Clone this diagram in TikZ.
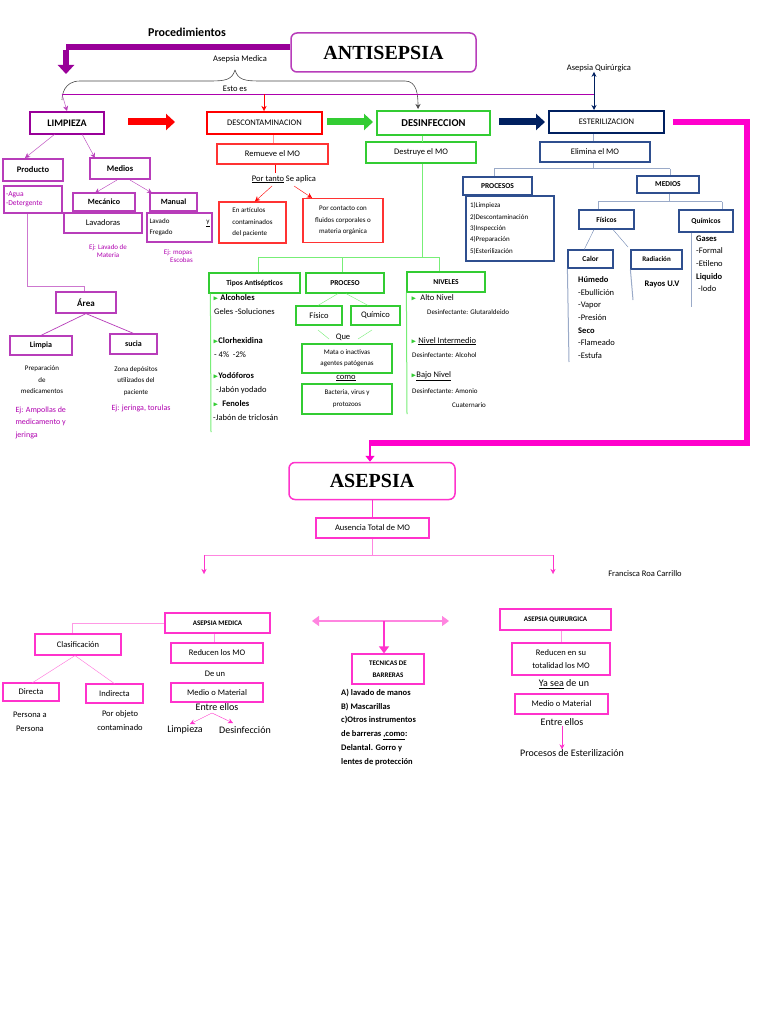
\documentclass[tikz,border=0pt]{standalone}
\usepackage{fontspec}
\usepackage{amssymb}
\setmainfont{Carlito}
\newfontfamily\titlefont{Liberation Serif}
\usetikzlibrary{arrows.meta}
\definecolor{pur}{HTML}{990099}
\definecolor{lpur}{HTML}{B83DBA}
\definecolor{mag}{HTML}{FF33CC}
\definecolor{bmag}{HTML}{FF00CC}
\definecolor{grn}{HTML}{33CC33}
\definecolor{lgrn}{HTML}{77EE77}
\definecolor{nav}{HTML}{002060}
\definecolor{sblue}{HTML}{2F4F8F}
\definecolor{gblue}{HTML}{9AAAC8}
\definecolor{tmag}{HTML}{B000B0}
\newcommand\bx[7]{\node[bx,#6,minimum width={(#4)-(#2)},minimum height={(#5)-(#3)}] (#1) at ({((#2)+(#4))/2},{((#3)+(#5))/2}) {#7};}
\newcommand\bul{\textcolor{grn}{\scalebox{0.8}{$\blacktriangleright$}}}
\begin{document}
\begin{tikzpicture}[x=1pt,y=-1pt,
  bx/.style={draw,rectangle,inner sep=1pt,align=center,line width=1.2pt,font=\fontsize{8.5}{10}\selectfont},
  sm/.style={font=\fontsize{7}{10}\selectfont,align=center},
  tx/.style={font=\fontsize{8.5}{10}\selectfont,align=center,inner sep=0},
  lt/.style={font=\fontsize{8.5}{10}\selectfont,anchor=west,inner sep=0},
  ls/.style={font=\fontsize{7}{9}\selectfont,anchor=west,inner sep=0},
  ar/.style={-{Stealth[length=5pt,width=5pt]}},
  blk/.style={line width=7pt,-{Triangle[length=9pt,width=16pt]}}]
\useasboundingbox (0,0) rectangle (768,1024);
\fill[white] (0,0) rectangle (768,1024);
% ---------- ANTISEPSIA ----------
\node[draw=lpur,line width=1.5pt,rounded corners=6pt,minimum width=185pt,minimum height=39pt,font=\titlefont\bfseries\fontsize{20}{22}\selectfont] (anti) at (383.5,52.5) {ANTISEPSIA};
\node[font=\bfseries\fontsize{12}{14}\selectfont] (proc) at (187,32) {Procedimientos};
\coordinate (pc) at (66,47);
\draw[pur,line width=6pt] (anti.west|-pc) -- (pc);
\draw[pur,line width=6pt,-{Triangle[length=9pt,width=16pt]}] ([yshift=-3pt]pc) -- (66,74);
\node[tx] (am) at (240,59) {Asepsia Medica};
\node[tx] (ee) at (235,89) {Esto es};
\node[tx] (aq) at (599,68) {Asepsia Quirúrgica};
% boxes row
\bx{limp}{30}{112}{104}{134}{draw=pur,line width=2pt,font=\bfseries\fontsize{10}{12}\selectfont}{LIMPIEZA}
\bx{desc}{207}{112}{322}{134}{draw=red,line width=2pt}{DESCONTAMINACION}
\bx{desi}{377}{111}{490}{135}{draw=grn,line width=2pt,font=\bfseries\fontsize{10.5}{12}\selectfont}{DESINFECCION}
\bx{este}{549}{111}{664}{133}{draw=nav,line width=2pt}{ESTERILIZACION}
% brace
\coordinate (bra) at (235,70);
\draw[black!70,line width=0.6pt] (bra) .. controls (232,80) and (225,81) .. (210,81) -- (80,81) .. controls (64,81) and (62,95) .. (62,100);
\draw[black!70,line width=0.6pt,ar] (bra) .. controls (238,80) and (245,81) .. (260,81) -- (405,81) .. controls (417,81) and (418,95) .. (418,109);
% magenta thin
\coordinate (m0) at (62,94);
\draw[pur!80!magenta,line width=0.8pt] (m0) -- (594,94);
\draw[lpur,ar] (m0) -- (limp.north);
\draw[red,ar] (264,94) -- (desc.north-|264,0);
\draw[nav,ar,line width=0.8pt] (594,94) -- (este.north-|594,0);
\draw[nav,ar,line width=0.8pt] (594,94) -- (aq.south-|594,0);
% block arrows
\draw[red,blk] (128,122) -- (175,122);
\draw[grn,blk] (327,122) -- (373,122);
\draw[nav,blk] (499,122) -- (545,122);
% magenta thick
\draw[bmag,line width=6pt] ([xshift=8pt]este.east) -- (747,122) -- (747,443) -- (370,443);
\coordinate (mend) at (370,443);
% ---------- LIMPIEZA branch ----------
\bx{prod}{3}{159}{63}{181}{draw=lpur,font=\bfseries\fontsize{8.5}{10}\selectfont}{Producto}
\bx{med}{90}{158}{150}{179}{draw=lpur,font=\bfseries\fontsize{8.5}{10}\selectfont}{Medios}
\draw[lpur,ar] (55,134) -- (25,158);
\draw[lpur,ar] (82,134) -- (95,158);
\node[bx,draw=lpur,text=tmag,align=left,font=\fontsize{7.5}{9}\selectfont,minimum width=58pt,minimum height=27pt,text width=54pt] (agua) at (33,199.5) {-{}Agua\\-{}Detergente};
\bx{mec}{73}{193}{135}{211}{draw=lpur,font=\bfseries\fontsize{8}{10}\selectfont}{Mecánico}
\bx{man}{150}{193}{197}{211}{draw=lpur,font=\bfseries\fontsize{8}{10}\selectfont}{Manual}
\draw[lpur,ar] (117,180) -- (95,193);
\draw[lpur,ar] (130,180) -- (152,193);
\bx{lav}{64}{213}{142}{233}{draw=lpur}{Lavadoras}
\node[bx,draw=lpur,minimum width=65pt,minimum height=29pt,font=\fontsize{7}{11}\selectfont,align=left,text width=60pt] (lf) at (179.5,227.5) {Lavado\hfill\underline{y}\\Fregado};
\node[sm,text=tmag,font=\fontsize{7}{8.5}\selectfont] (ej1) at (108,251) {Ej: Lavado de\\Materia};
\node[sm,text=tmag,font=\fontsize{7}{8.5}\selectfont] (ej2) at (178,256) {Ej: mopas\\\quad Escobas};
\bx{area}{56}{292}{116}{313}{draw=lpur,font=\bfseries\fontsize{9}{10}\selectfont}{Área}
\draw[lpur!70,line width=0.8pt] (agua.south-|27,0) -- (27,286) -- (84,286) -- (area.north-|84,0);
\bx{lim}{10}{336}{72}{355}{draw=lpur,font=\bfseries\fontsize{8}{10}\selectfont}{Limpia}
\bx{suc}{110}{334}{157}{354}{draw=lpur,font=\bfseries\fontsize{8}{10}\selectfont}{sucia}
\draw[lpur,line width=0.7pt] (area.south) -- (lim.north);
\draw[lpur,line width=0.7pt] (area.south) -- (suc.north);
\node[sm,font=\fontsize{7}{11.5}\selectfont] (pm) at (42,380) {Preparación\\de\\medicamentos};
\node[sm,text=tmag,align=left,anchor=north west,font=\fontsize{8}{12.5}\selectfont] (ejam) at (12,403) {Ej: Ampollas de\\medicamento y\\jeringa};
\node[sm,font=\fontsize{7}{11.5}\selectfont] (zd) at (136,381) {Zona depósitos\\utilizados del\\paciente};
\node[sm,text=tmag,font=\fontsize{8}{10}\selectfont] (ejj) at (141,408) {Ej: jeringa, torulas};
% ---------- DESCONTAMINACION ----------
\bx{rem}{217}{144}{328}{164}{draw=red!80}{Remueve el MO}
\draw[red!40] (desc.south-|273,0) -- (rem.north-|273,0);
\node[tx] (pt) at (284,179) {\underline{Por tanto} Se aplica};
\draw[red] (rem.south-|275,0) -- (275,173);
\node[bx,draw=red!80,line width=1.2pt,minimum width=67pt,minimum height=41pt,align=left,font=\fontsize{7}{11.5}\selectfont] (eart) at (252.5,222.5) {En artículos\\contaminados\\del paciente};
\node[bx,draw=red!80,line width=1.2pt,minimum width=80pt,minimum height=44pt,align=center,font=\fontsize{7}{11.5}\selectfont] (pcon) at (343,220.5) {Por contacto con\\fluidos corporales o\\materia orgánica};
\draw[red,ar] (272,186) -- (eart.north-|255,0);
\draw[red,ar] (294,186) -- (pcon.north-|312,0);
% ---------- DESINFECCION ----------
\bx{des}{366}{142}{476}{163}{draw=grn}{Destruye el MO}
\draw[lgrn,line width=0.8pt] (desi.south-|422,0) -- (422,142);
\draw[lgrn,line width=0.8pt] (des.south-|422,0) -- (422,257);
\draw[lgrn,line width=0.8pt] (258,257) -- (439,257);
\bx{tip}{209}{273}{300}{293}{draw=grn,font=\bfseries\fontsize{7.5}{10}\selectfont}{Tipos Antisépticos}
\bx{pro}{306}{273}{384}{293}{draw=grn,font=\bfseries\fontsize{7.5}{10}\selectfont}{PROCESO}
\bx{niv}{407}{272}{485}{292}{draw=grn,font=\bfseries\fontsize{7.5}{10}\selectfont}{NIVELES}
\draw[lgrn,line width=0.8pt] (258,257) -- (tip.north-|258,0);
\draw[lgrn,line width=0.8pt] (342,257) -- (pro.north-|342,0);
\draw[lgrn,line width=0.8pt] (439,257) -- (niv.north-|439,0);
\draw[lgrn,line width=1pt] (tip.south west)++(2,0) -- (211,432);
\draw[lgrn,line width=1pt] (niv.south west) -- (407,414);
\node[lt] (t1) at (213,298) {\bul\ \textbf{Alcoholes}};
\node[lt] (t2) at (214,312) {Geles -Soluciones};
\node[lt] (t3) at (213,341) {\bul\textbf{Clorhexidina}};
\node[lt] (t4) at (214,355) {- 4\%\ \ -2\%};
\node[lt] (t5) at (213,376) {\bul\textbf{Yodóforos}};
\node[lt] (t6) at (216,390) {-Jabón yodado};
\node[lt] (t7) at (213,404) {\bul\ \ \textbf{Fenoles}};
\node[lt] (t8) at (213,418) {-Jabón de triclosán};
\bx{fis}{296}{306}{342}{325}{draw=grn}{Físico}
\bx{qui}{351}{306}{400}{325}{draw=grn}{Químico}
\draw[lgrn] (pro.south-|338,0) -- (fis.north-|318,0);
\draw[lgrn] (pro.south-|346,0) -- (qui.north-|368,0);
\node[tx] (que) at (343,337) {Que};
\draw[lgrn] (318,330) -- (329,339);
\draw[lgrn] (372,330) -- (358,339);
\node[bx,draw=grn,sm,minimum width=90pt,minimum height=29pt,font=\fontsize{7}{11}\selectfont] (mata) at (347,358.5) {Mata o inactivas\\agentes patógenas};
\node[tx] (como) at (346,378) {\underline{como}};
\node[bx,draw=grn,sm,minimum width=90pt,minimum height=30pt,font=\fontsize{7}{12}\selectfont] (bac) at (347,399) {Bacteria, virus y\\protozoos};
\node[lt] (n1) at (411,298) {\bul\ \ Alto Nivel};
\node[ls] (n2) at (427,312) {Desinfectante: Glutaraldeido};
\node[lt] (n3) at (411,341) {\bul\ \underline{Nivel Intermedio}};
\node[ls] (n4) at (412,355) {Desinfectante: Alcohol};
\node[lt] (n5) at (411,376) {\bul\underline{Bajo Nivel}};
\node[ls] (n6) at (412,391) {Desinfectante: Amonio};
\node[ls] (n7) at (452,405) {Cuaternario};
% ---------- ESTERILIZACION ----------
\bx{eli}{540}{142}{650}{162}{draw=sblue}{Elimina el MO}
\draw[gblue,line width=1pt] (este.south-|593,0) -- (eli.north-|593,0);
\draw[gblue,line width=1pt] (eli.south-|593,0) -- (593,169);
\draw[gblue,line width=1pt] (494,169) -- (670,169);
\bx{pros}{463}{177}{532}{195}{draw=sblue,font=\bfseries\fontsize{7.5}{10}\selectfont}{PROCESOS}
\node[bx,draw=sblue,minimum width=88pt,minimum height=65pt,text width=80pt,align=left,font=\fontsize{7}{11.4}\selectfont] (pitems) at (510,228.5) {1)Limpieza\\2)Descontaminación\\3)Inspección\\4)Preparación\\5)Esterilización};
\bx{meds}{637}{176}{699}{193}{draw=sblue,font=\bfseries\fontsize{7.5}{10}\selectfont}{MEDIOS}
\draw[gblue,line width=1pt] (494,169) -- (pros.north-|494,0);
\draw[gblue,line width=1pt] (670,169) -- (meds.north-|670,0);
\draw[gblue,line width=1pt] (meds.south-|669,0) -- (669,202);
\draw[gblue,line width=1pt] (598,202) -- (722,202);
\bx{fisi}{579}{210}{634}{229}{draw=sblue,font=\bfseries\fontsize{7.5}{10}\selectfont}{Físicos}
\bx{quim}{679}{210}{733}{232}{draw=sblue,font=\bfseries\fontsize{7.5}{10}\selectfont}{Químicos}
\draw[gblue,line width=1pt] (598,202) -- (fisi.north-|598,0);
\draw[gblue,line width=1pt] (722,202) -- (quim.north-|722,0);
\bx{cal}{568}{250}{613}{268}{draw=sblue,font=\bfseries\fontsize{7.5}{10}\selectfont}{Calor}
\bx{rad}{631}{250}{682}{269}{draw=sblue,font=\bfseries\fontsize{7}{10}\selectfont}{Radiación}
\draw[sblue!70] (fisi.south-|594,0) -- (584,250);
\draw[sblue!70] (fisi.south-|613,0) -- (628,247);
\draw[gblue,line width=1pt] (cal.south west) -- (569,362);
\draw[gblue,line width=1pt] (rad.south west) -- (633,300);
\draw[gblue,line width=1pt] (quim.south-|691,0) -- (691,307);
\node[lt] (c1) at (578,280) {\textbf{Húmedo}};
\node[lt] (c2) at (578,292.5) {-Ebullición};
\node[lt] (c3) at (578,305) {-Vapor};
\node[lt] (c4) at (578,317.5) {-Presión};
\node[lt] (c5) at (578,330.5) {\textbf{Seco}};
\node[lt] (c6) at (578,343) {-Flameado};
\node[lt] (c7) at (578,356) {-Estufa};
\node[tx] (ray) at (662,284) {\textbf{Rayos U.V}};
\node[lt] (q1) at (696,239) {\textbf{Gases}};
\node[lt] (q2) at (696,251) {-Formal};
\node[lt] (q3) at (696,264) {-Etileno};
\node[lt] (q4) at (696,277) {\textbf{Liquido}};
\node[lt] (q5) at (698,289) {-Iodo};
% ---------- ASEPSIA ----------
\node[draw=mag,line width=1.5pt,rounded corners=6pt,minimum width=166pt,minimum height=37pt,font=\titlefont\bfseries\fontsize{20}{22}\selectfont] (ase) at (372,481) {ASEPSIA};
\draw[bmag,line width=1.5pt,-{Triangle[length=6pt,width=9pt]}] ([yshift=3pt]mend) -- (ase.north-|370,0);
\bx{aus}{316}{518}{429}{538}{draw=mag}{Ausencia Total de MO}
\draw[mag,line width=1pt] (ase.south-|372,0) -- (aus.north-|372,0);
\draw[mag!60,line width=1pt] (aus.south-|372,0) -- (372,555);
\draw[mag!60,line width=1pt] (204,555) -- (553,555);
\coordinate (la) at (204,574);
\coordinate (ra) at (553,574);
\draw[mag,ar] (204,555) -- (la);
\draw[mag,ar] (553,555) -- (ra);
\node[tx] (fr) at (645,574) {Francisca Roa Carrillo};
\bx{asm}{165}{613}{270}{633}{draw=mag,font=\bfseries\fontsize{7}{10}\selectfont}{ASEPSIA MEDICA}
\bx{cla}{35}{634}{121}{655}{draw=mag}{Clasificación}
\draw[mag!50,line width=1pt] (asm.west) -- (72,623) -- (cla.north-|72,0);
\bx{red}{171}{643}{263}{663}{draw=mag}{Reducen los MO}
\draw[mag!50,line width=1pt] (asm.south-|214,0) -- (red.north-|214,0);
\bx{dir}{3}{683}{59}{701}{draw=mag}{Directa}
\bx{ind}{86}{684}{143}{703}{draw=mag}{Indirecta}
\draw[mag!70] (cla.south-|75,0) -- (32,683);
\draw[mag!70] (cla.south-|75,0) -- (115,684);
\node[tx,font=\fontsize{8.5}{14}\selectfont] (pp) at (30,722) {Persona a\\Persona};
\node[tx,font=\fontsize{8.5}{14}\selectfont] (po) at (120,721) {Por objeto\\contaminado};
\node[tx] (du) at (215,674) {De un};
\bx{mom}{171}{683}{263}{702}{draw=mag}{Medio o Material};
\node[tx,font=\fontsize{10}{11}\selectfont] (ee1) at (217,707) {Entre ellos};
\node[tx,font=\fontsize{10}{11}\selectfont] (lm) at (185,730) {Limpieza};
\node[tx,font=\fontsize{10}{11}\selectfont] (di) at (245,730) {Desinfección};
\draw[mag,ar] (212,713) -- (190,724);
\draw[mag,ar] (212,713) -- (233,723);
\coordinate (dl) at (312,621);
\coordinate (dr) at (449,621);
\draw[mag!60,line width=1.2pt,{Triangle[length=7pt,width=10pt]}-{Triangle[length=7pt,width=10pt]}] (dl) -- (dr);
\bx{tec}{352}{654}{424}{684}{draw=mag,font=\bfseries\fontsize{7}{12}\selectfont}{TECNICAS DE\\BARRERAS}
\draw[mag,line width=1.2pt,-{Triangle[length=7pt,width=10pt]}] (384,621) -- (tec.north-|384,0);
\node[anchor=north west,inner sep=0,align=left,font=\bfseries\fontsize{8.5}{13.7}\selectfont] (lst) at (341,689) {A) lavado de manos\\B) Mascarillas\\c)Otros instrumentos\\de barreras \underline{,como}:\\Delantal. Gorro y\\lentes de protección};
\bx{asq}{500}{609}{611}{630}{draw=mag,font=\bfseries\fontsize{7}{10}\selectfont}{ASEPSIA QUIRURGICA}
\bx{rsu}{512}{643}{610}{675}{draw=mag,font=\fontsize{8.5}{13}\selectfont}{Reducen en su\\totalidad los MO}
\draw[mag!50,line width=1pt] (asq.south-|561,0) -- (rsu.north-|561,0);
\node[tx,font=\fontsize{10}{11}\selectfont] (ys) at (564,684) {\underline{Ya sea} de un};
\bx{mom2}{515}{694}{608}{714}{draw=mag}{Medio o Material}
\node[tx,font=\fontsize{10}{11}\selectfont] (ee2) at (562,722) {Entre ellos};
\node[tx,font=\fontsize{10}{11}\selectfont] (pe) at (572,753) {Procesos de Esterilización};
\draw[mag,ar] (ee2.south) -- (pe.north-|ee2.south);
\end{tikzpicture}
\end{document}
